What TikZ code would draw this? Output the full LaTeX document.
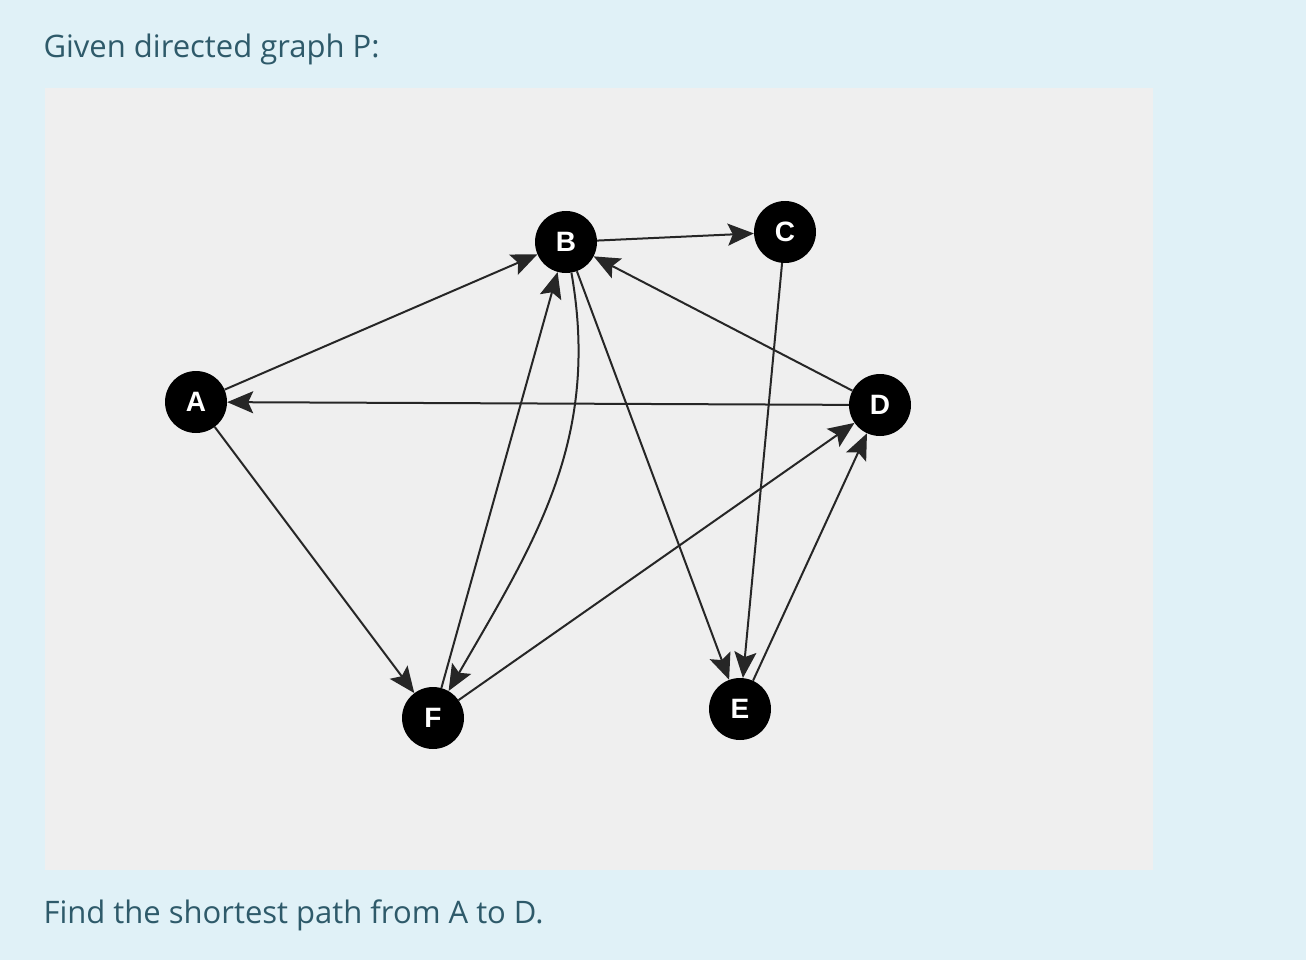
\documentclass[tikz,border=0pt]{standalone}
\usepackage{fontspec}
\setmainfont{Open Sans}
\newfontfamily\nodefont{Liberation Sans}
\usetikzlibrary{arrows.meta}
\definecolor{bgblue}{HTML}{E0F1F7}
\definecolor{panel}{HTML}{EFEFEF}
\definecolor{txt}{HTML}{2E5A6A}
\begin{document}
\begin{tikzpicture}[x=1pt,y=-1pt,
  vtx/.style={circle,fill=black,minimum size=62pt,inner sep=0pt,text=white,font=\nodefont\fontsize{28}{28}\selectfont\bfseries},
  edge/.style={draw=black!85,line width=2pt,-{Stealth[length=26pt,width=22pt,inset=5pt]}},
  lbl/.style={anchor=west,text=txt,font=\fontsize{31}{31}\selectfont}]
\fill[bgblue] (0,0) rectangle (1306,960);
\useasboundingbox (0,0) rectangle (1306,960);
\fill[panel] (45,88) rectangle (1153,870);
\node[lbl] (t1) at (40,49) {Given directed graph P:};
\node[lbl] (t2) at (40,915) {Find the shortest path from A to D.};
\node[vtx] (B) at (566,242) {B};
\node[vtx] (C) at (785,232) {C};
\node[vtx] (A) at (196,402) {A};
\node[vtx] (D) at (880,405) {D};
\node[vtx] (F) at (433,718) {F};
\node[vtx] (E) at (740,709) {E};
\draw[edge] (A) -- (B);
\draw[edge] (B) -- (C);
\draw[edge] (D) -- (B);
\draw[edge] (D) -- (A);
\draw[edge] (A) -- (F);
\draw[edge] (F) -- (B);
\draw[edge] (B) to[out=-80,in=60] (F);
\draw[edge] (B) -- (E);
\draw[edge] (C) -- (E);
\draw[edge] (E) -- (D);
\draw[edge] (F) -- (D);
\end{tikzpicture}
\end{document}
